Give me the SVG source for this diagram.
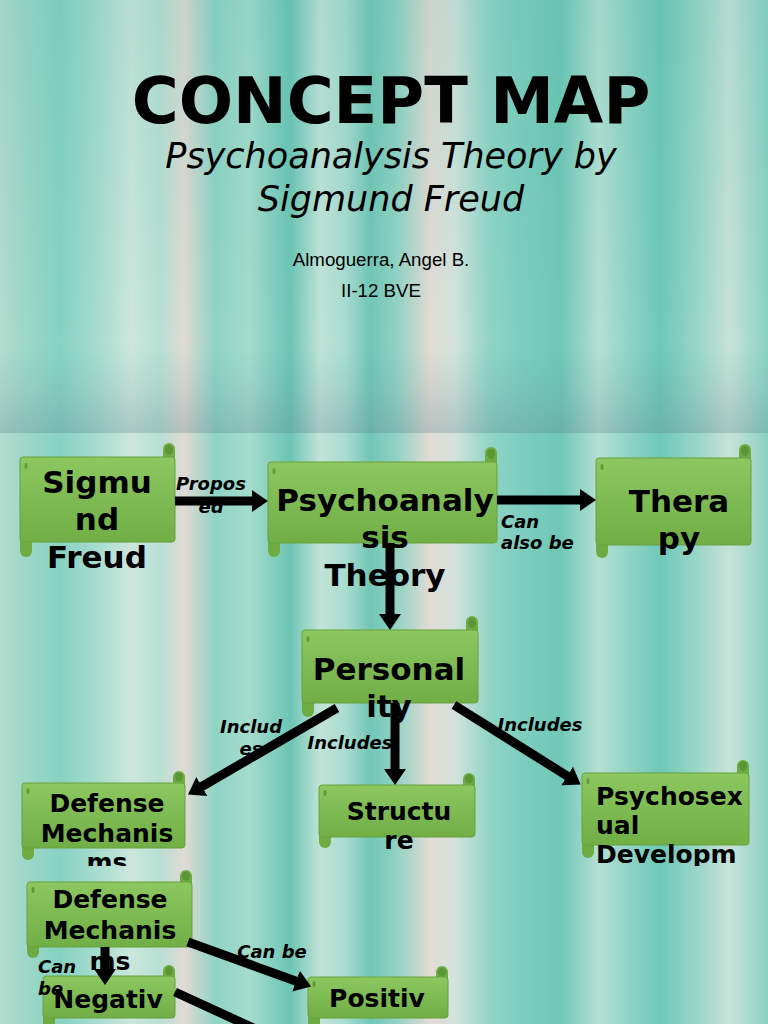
<svg xmlns="http://www.w3.org/2000/svg" width="768" height="1024" viewBox="0 0 768 1024">
<defs>
<linearGradient id="bg" gradientUnits="userSpaceOnUse" x1="0" y1="0" x2="768" y2="0">
<stop offset="0" stop-color="#b5dccf"/>
<stop offset="0.026" stop-color="#a2d8c9"/>
<stop offset="0.078" stop-color="#86d2c2"/>
<stop offset="0.13" stop-color="#a9ddd0"/>
<stop offset="0.17" stop-color="#cde6dc"/>
<stop offset="0.208" stop-color="#b8e0d4"/>
<stop offset="0.24" stop-color="#e0dad4"/>
<stop offset="0.28" stop-color="#8fd4c5"/>
<stop offset="0.325" stop-color="#a5dccd"/>
<stop offset="0.378" stop-color="#6cc5b5"/>
<stop offset="0.417" stop-color="#c2e3d8"/>
<stop offset="0.45" stop-color="#a9dcd0"/>
<stop offset="0.482" stop-color="#72c6b6"/>
<stop offset="0.515" stop-color="#8fd2c3"/>
<stop offset="0.56" stop-color="#e2dbd5"/>
<stop offset="0.592" stop-color="#d3e3dc"/>
<stop offset="0.638" stop-color="#8fd4c5"/>
<stop offset="0.677" stop-color="#7ecebf"/>
<stop offset="0.73" stop-color="#6fc7b6"/>
<stop offset="0.78" stop-color="#b5e0d3"/>
<stop offset="0.82" stop-color="#8fd3c4"/>
<stop offset="0.86" stop-color="#6ec8b8"/>
<stop offset="0.91" stop-color="#9bd7c8"/>
<stop offset="0.95" stop-color="#c8e2d8"/>
<stop offset="1" stop-color="#8ad2c3"/>
</linearGradient>
<linearGradient id="shade1" x1="0" y1="0" x2="0" y2="1">
<stop offset="0" stop-color="#2f9e90" stop-opacity="0.12"/>
<stop offset="0.8" stop-color="#2f9e90" stop-opacity="0"/>
<stop offset="0.9" stop-color="#5a7f88" stop-opacity="0.12"/>
<stop offset="1" stop-color="#5a7f88" stop-opacity="0.3"/>
</linearGradient>
<linearGradient id="nodeFill" x1="0" y1="0" x2="0" y2="1">
<stop offset="0" stop-color="#8cc760"/>
<stop offset="1" stop-color="#71ae46"/>
</linearGradient>
<marker id="ah" viewBox="0 -12 18 24" refX="1" refY="0" markerWidth="18" markerHeight="24" markerUnits="userSpaceOnUse" orient="auto">
<path d="M0,-11 L16,0 L0,11 Z" fill="#000"/>
</marker>
<clipPath id="c2"><rect x="0" y="433" width="768" height="433"/></clipPath>
<clipPath id="c3"><rect x="0" y="866" width="768" height="158"/></clipPath>
</defs>
<style>
.body{fill:url(#nodeFill);stroke:#67a23c;stroke-width:1}
.lobe{fill:#6eac43}
.curl{fill:#5a9634}
.dot{fill:#5f9b38}
.nt{font-family:"DejaVu Sans",Verdana,sans-serif;font-weight:bold;fill:#000;text-anchor:middle}
.ns{font-family:"DejaVu Sans",Verdana,sans-serif;font-weight:bold;fill:#000;text-anchor:start}
.lbl{font-family:"DejaVu Sans",Verdana,sans-serif;font-weight:bold;font-style:italic;font-size:18px;fill:#000}
.ar{stroke:#000;stroke-width:9;fill:none;marker-end:url(#ah)}
.ln{stroke:#000;stroke-width:9;fill:none}
.title{font-family:"DejaVu Sans",Verdana,sans-serif;fill:#000;text-anchor:middle}
.auth{font-family:"Liberation Sans",Arial,sans-serif;font-size:18.7px;fill:#000;text-anchor:middle}
</style>

<!-- backgrounds -->
<g id="backgrounds">
<rect x="0" y="0" width="768" height="433" fill="url(#bg)"/>
<rect x="0" y="0" width="768" height="433" fill="url(#shade1)"/>
<rect x="0" y="433" width="768" height="433" fill="url(#bg)"/>
<rect x="0" y="866" width="768" height="158" fill="url(#bg)"/>
</g>

<!-- title slide -->
<g id="title-slide">
<text class="title" x="391" y="123" font-size="64" font-weight="bold">CONCEPT MAP</text>
<text class="title" x="391" y="168" font-size="35" font-style="italic">Psychoanalysis Theory by</text>
<text class="title" x="391" y="211" font-size="35" font-style="italic">Sigmund Freud</text>
<text class="auth" x="381" y="266">Almoguerra, Angel B.</text>
<text class="auth" x="381" y="297">II-12 BVE</text>
</g>

<!-- slide 2 nodes -->
<g clip-path="url(#c2)">
<g id="node-sigmund">
<rect class="lobe" x="20" y="532" width="12" height="25" rx="6"/>
<rect class="lobe" x="163" y="443" width="12" height="24" rx="6"/>
<ellipse class="curl" cx="169" cy="450" rx="4" ry="5"/>
<rect class="body" x="20" y="457" width="155" height="85" rx="3"/>
<ellipse class="dot" cx="26" cy="466" rx="1.5" ry="3"/>
<text class="nt" font-size="31" x="97"><tspan x="97" y="493">Sigmu</tspan><tspan x="97" y="530">nd</tspan><tspan x="97" y="568">Freud</tspan></text>
</g>
<g id="node-psychoanalysis">
<rect class="lobe" x="268" y="533" width="12" height="24" rx="6"/>
<rect class="lobe" x="485" y="447" width="12" height="24" rx="6"/>
<ellipse class="curl" cx="491" cy="454" rx="4" ry="5"/>
<rect class="body" x="268" y="462" width="229" height="81" rx="3"/>
<ellipse class="dot" cx="274" cy="471" rx="1.5" ry="3"/>
<text class="nt" font-size="31" x="385"><tspan x="385" y="511">Psychoanaly</tspan><tspan x="385" y="548">sis</tspan><tspan x="385" y="586">Theory</tspan></text>
</g>
<g id="node-therapy">
<rect class="lobe" x="596" y="535" width="12" height="23" rx="6"/>
<rect class="lobe" x="739" y="444" width="12" height="24" rx="6"/>
<ellipse class="curl" cx="745" cy="451" rx="4" ry="5"/>
<rect class="body" x="596" y="458" width="155" height="87" rx="3"/>
<ellipse class="dot" cx="602" cy="467" rx="1.5" ry="3"/>
<text class="nt" font-size="31" x="679"><tspan x="679" y="512">Thera</tspan><tspan x="679" y="549">py</tspan></text>
</g>
<g id="node-personality">
<rect class="lobe" x="302" y="693" width="12" height="24" rx="6"/>
<rect class="lobe" x="466" y="616" width="12" height="24" rx="6"/>
<ellipse class="curl" cx="472" cy="623" rx="4" ry="5"/>
<rect class="body" x="302" y="630" width="176" height="73" rx="3"/>
<ellipse class="dot" cx="308" cy="639" rx="1.5" ry="3"/>
<text class="nt" font-size="31" x="389"><tspan x="389" y="680">Personal</tspan><tspan x="389" y="717">ity</tspan></text>
</g>
<g id="node-structure">
<rect class="lobe" x="319" y="827" width="12" height="21" rx="6"/>
<rect class="lobe" x="463" y="773" width="12" height="22" rx="6"/>
<ellipse class="curl" cx="469" cy="779" rx="4" ry="4.5"/>
<rect class="body" x="319" y="785" width="156" height="52" rx="3"/>
<ellipse class="dot" cx="325" cy="793" rx="1.5" ry="3"/>
<text class="nt" font-size="25" x="399"><tspan x="399" y="820">Structu</tspan><tspan x="399" y="849">re</tspan></text>
</g>
<g id="node-defense-1">
<rect class="lobe" x="22" y="838" width="12" height="22" rx="6"/>
<rect class="lobe" x="173" y="771" width="12" height="22" rx="6"/>
<ellipse class="curl" cx="179" cy="777" rx="4" ry="4.5"/>
<rect class="body" x="22" y="783" width="163" height="65" rx="3"/>
<ellipse class="dot" cx="28" cy="791" rx="1.5" ry="3"/>
<text class="nt" font-size="25" x="107"><tspan x="107" y="812">Defense</tspan><tspan x="107" y="842">Mechanis</tspan><tspan x="107" y="871">ms</tspan></text>
</g>
<g id="node-psychosexual">
<rect class="lobe" x="582" y="835" width="12" height="23" rx="6"/>
<rect class="lobe" x="737" y="760" width="12" height="23" rx="6"/>
<ellipse class="curl" cx="743" cy="766" rx="4" ry="5"/>
<rect class="body" x="582" y="773" width="167" height="72" rx="3"/>
<ellipse class="dot" cx="588" cy="781" rx="1.5" ry="3"/>
<text class="ns" font-size="25" x="596"><tspan x="596" y="805">Psychosex</tspan><tspan x="596" y="834">ual</tspan><tspan x="596" y="863">Developm</tspan></text>
</g>
</g>

<!-- slide 2 connectors -->
<g id="connectors-slide2" clip-path="url(#c2)">
<text class="lbl" text-anchor="middle" x="211"><tspan x="211" y="490">Propos</tspan><tspan x="211" y="513">ed</tspan></text>
<text class="lbl" x="501"><tspan x="501" y="528">Can</tspan><tspan x="501" y="549">also be</tspan></text>
<text class="lbl" text-anchor="middle" x="251"><tspan x="251" y="733">Includ</tspan><tspan x="251" y="755">es</tspan></text>
<text class="lbl" text-anchor="middle" x="350" y="749">Includes</text>
<text class="lbl" text-anchor="middle" x="540" y="731">Includes</text>
<line class="ar" x1="175" y1="501" x2="253" y2="501"/>
<line class="ar" x1="497" y1="500" x2="581" y2="500"/>
<line class="ar" x1="390" y1="543" x2="390" y2="615"/>
<line class="ar" x1="337" y1="708" x2="201" y2="787"/>
<line class="ar" x1="395" y1="703" x2="395" y2="770"/>
<line class="ar" x1="454" y1="705" x2="568" y2="776.5"/>
</g>

<!-- slide 3 nodes -->
<g clip-path="url(#c3)">
<g id="node-defense-2">
<rect class="lobe" x="27" y="937" width="12" height="21" rx="6"/>
<rect class="lobe" x="180" y="870" width="12" height="22" rx="6"/>
<ellipse class="curl" cx="186" cy="876" rx="4" ry="4.5"/>
<rect class="body" x="27" y="882" width="165" height="65" rx="3"/>
<ellipse class="dot" cx="33" cy="890" rx="1.5" ry="3"/>
<text class="nt" font-size="25" x="110"><tspan x="110" y="908">Defense</tspan><tspan x="110" y="939">Mechanis</tspan><tspan x="110" y="970">ms</tspan></text>
</g>
<g id="node-negative">
<rect class="lobe" x="43" y="1008" width="12" height="22" rx="6"/>
<rect class="lobe" x="163" y="965" width="12" height="22" rx="6"/>
<ellipse class="curl" cx="169" cy="971" rx="4" ry="4.5"/>
<rect class="body" x="43" y="976" width="132" height="42" rx="3"/>
<text class="nt" font-size="25" x="108" y="1008">Negativ</text>
</g>
<g id="node-positive">
<rect class="lobe" x="308" y="1008" width="12" height="22" rx="6"/>
<rect class="lobe" x="436" y="966" width="12" height="22" rx="6"/>
<ellipse class="curl" cx="442" cy="972" rx="4" ry="4.5"/>
<rect class="body" x="308" y="977" width="140" height="41" rx="3"/>
<ellipse class="dot" cx="314" cy="984" rx="1.5" ry="3"/>
<text class="nt" font-size="25" x="377" y="1007">Positiv</text>
</g>
</g>

<!-- slide 3 connectors -->
<g id="connectors-slide3" clip-path="url(#c3)">
<text class="lbl" x="38"><tspan x="38" y="973">Can</tspan><tspan x="38" y="995">be</tspan></text>
<text class="lbl" text-anchor="middle" x="272" y="958">Can be</text>
<line class="ar" x1="105" y1="947" x2="105" y2="970"/>
<line class="ar" x1="188" y1="942" x2="297" y2="981.5"/>
<line class="ln" x1="175" y1="992" x2="262" y2="1032"/>
</g>
</svg>
